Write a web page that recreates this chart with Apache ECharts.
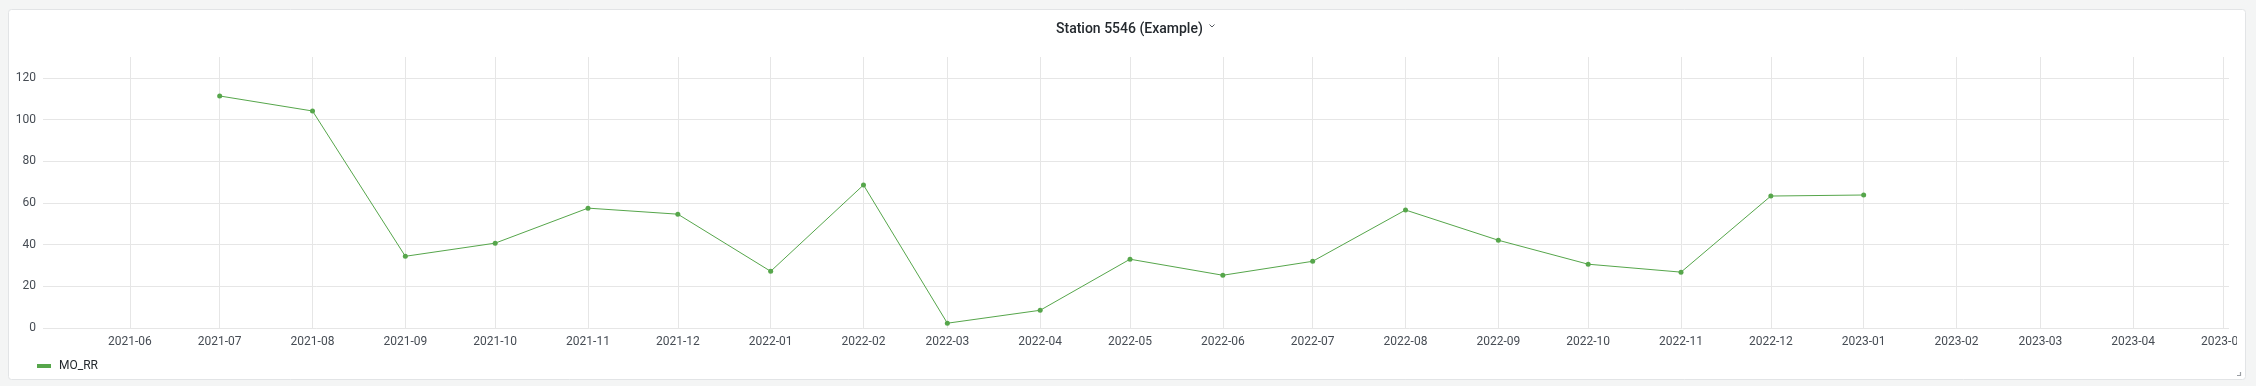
<!DOCTYPE html>
<html>
<head>
<meta charset="utf-8">
<script src="https://cdn.jsdelivr.net/npm/echarts@6/dist/echarts.min.js"></script>
<style>
html,body{margin:0;padding:0;background:#f4f5f5;}
#c{width:2256px;height:386px;}
</style>
</head>
<body>
<div id="c"></div>
<script>
// ---- data ----
const title = 'Station 5546 (Example)';
const seriesName = 'MO_RR';
const months = ['2021-07-01','2021-08-01','2021-09-01','2021-10-01','2021-11-01','2021-12-01',
  '2022-01-01','2022-02-01','2022-03-01','2022-04-01','2022-05-01','2022-06-01',
  '2022-07-01','2022-08-01','2022-09-01','2022-10-01','2022-11-01','2022-12-01','2023-01-01'];
const values = [111.3,104.1,34.4,40.7,57.5,54.6,27.2,68.6,2.3,8.5,33.0,25.3,32.0,56.6,42.1,30.6,26.8,63.3,63.8];
const rangeStart = '2021-05-03';
const rangeEnd = '2023-05-03';
const yTicks = [0,20,40,60,80,100,120];

function utc(s){const p=s.split('-').map(Number);return Date.UTC(p[0],p[1]-1,p[2]);}
function pad(n){return (n<10?'0':'')+n;}

const chart = echarts.init(document.getElementById('c'), null, {renderer:'canvas'});
const font = 'Roboto, "Noto Sans", sans-serif';
chart.setOption({
  useUTC: true,
  backgroundColor: '#f4f5f5',
  animation: false,
  title: {
    text: title, left: 1051, top: 17,
    textStyle: {fontFamily: font, fontSize: 14, fontWeight: 500, color: '#24292e'}
  },
  legend: {
    left: 32, top: 355, icon: 'rect', itemWidth: 14, itemHeight: 4,
    data: [{name: seriesName, icon: 'rect'}],
    textStyle: {fontFamily: font, fontSize: 12, color: '#24292e', padding: [0,0,0,3]}
  },
  grid: {left: 43, right: 27, top: 57, bottom: 58, containLabel: false},
  xAxis: {
    type: 'time',
    min: utc(rangeStart), max: utc(rangeEnd),
    splitNumber: 24,
    axisLine: {show: false},
    axisTick: {show: false},
    splitLine: {show: true, showMinLine: false, showMaxLine: false, lineStyle: {color: '#e6e6e6', width: 1}},
    axisLabel: {
      showMinLabel: false, showMaxLabel: false,
      fontFamily: font, fontSize: 12, color: '#464c54', margin: 8,
      formatter: function(v){const d=new Date(v);return d.getUTCFullYear()+'-'+pad(d.getUTCMonth()+1);}
    }
  },
  yAxis: {
    type: 'value', min: yTicks[0], max: 130, interval: yTicks[1]-yTicks[0],
    axisLine: {show: false}, axisTick: {show: false},
    splitLine: {show: true, showMaxLine: false, lineStyle: {color: '#e6e6e6', width: 1}},
    axisLabel: {
      showMaxLabel: false,
      fontFamily: font, fontSize: 12, color: '#464c54', margin: 7,
      formatter: function(v){return yTicks.indexOf(v)>=0 ? String(v) : '';}
    }
  },
  series: [{
    name: seriesName, type: 'line',
    data: months.map((m,i)=>[utc(m), values[i]]),
    symbol: 'circle', symbolSize: 5,
    itemStyle: {color: '#56a64b'},
    lineStyle: {color: '#56a64b', width: 1}
  }],
  graphic: [
    {type: 'rect', z: -10, silent: true,
     shape: {x: 8.5, y: 9.5, width: 2237, height: 370, r: 3},
     style: {fill: '#ffffff', stroke: '#e2e4e6', lineWidth: 1}},
    {type: 'rect', z: 100, silent: true,
     shape: {x: 2237, y: 332, width: 8, height: 25},
     style: {fill: '#ffffff'}},
    {type: 'polyline', z: 100, silent: true,
     shape: {points: [[1209.5,24.5],[1212,27],[1214.5,24.5]]},
     style: {stroke: '#555a60', lineWidth: 1, fill: null}},
    {type: 'polyline', z: 100, silent: true,
     shape: {points: [[2240.5,372],[2240.5,375.5],[2237,375.5]]},
     style: {stroke: '#9a9ea3', lineWidth: 1.2, fill: null}}
  ]
});
</script>
</body>
</html>
